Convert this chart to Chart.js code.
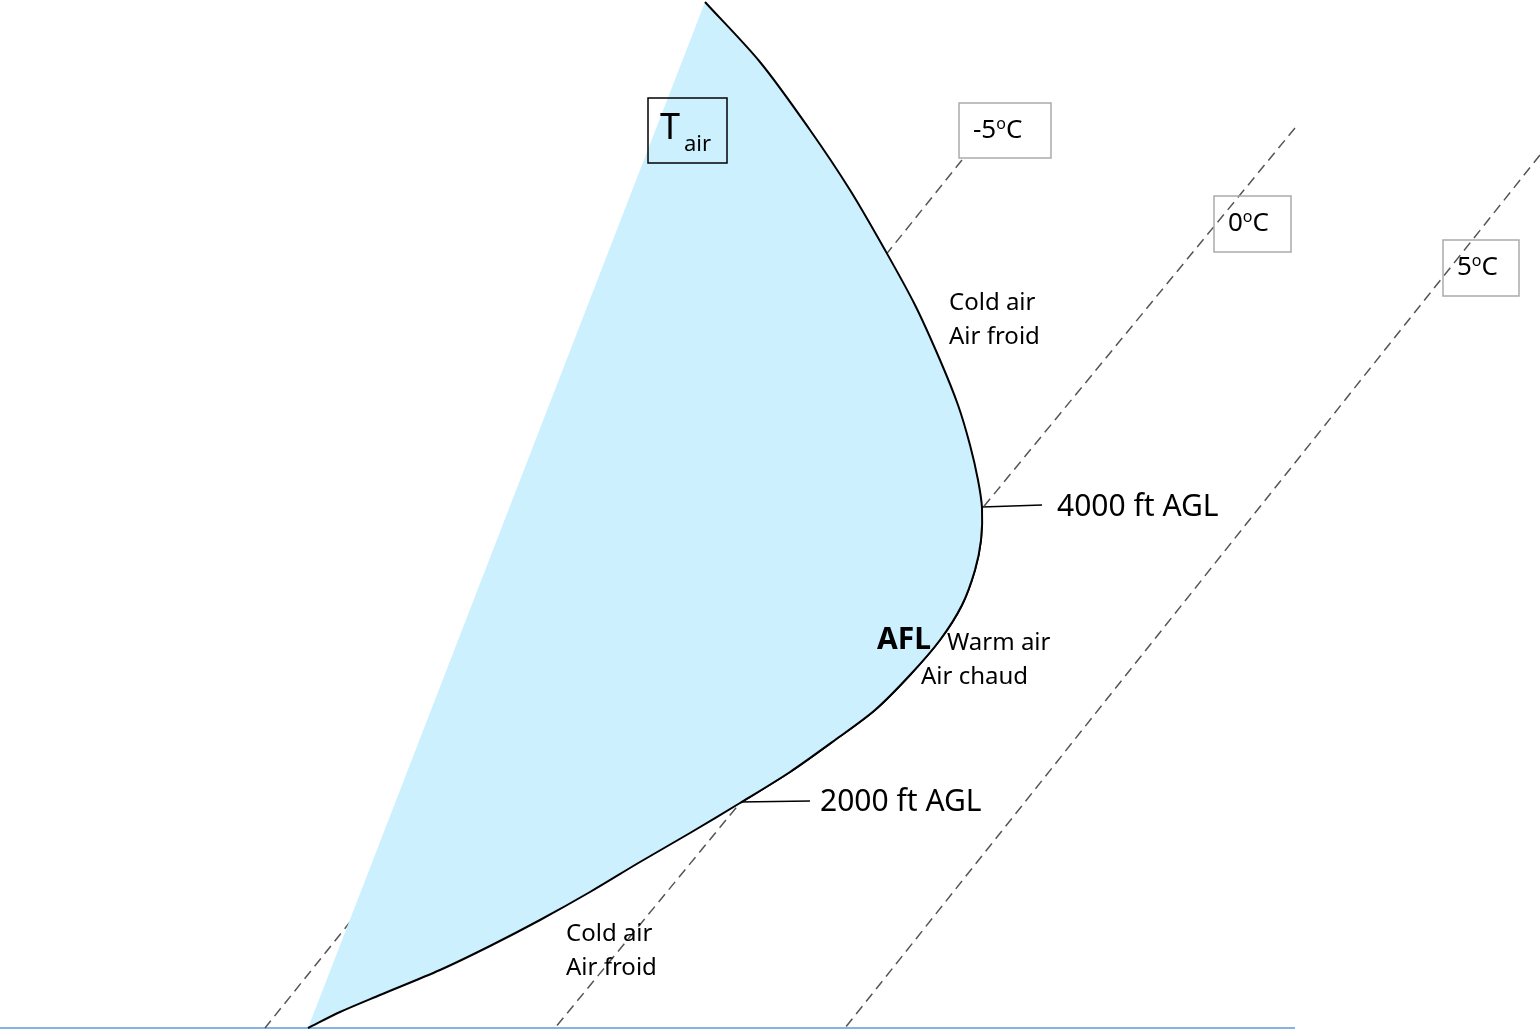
<!DOCTYPE html>
<html><head><meta charset="utf-8">
<script src="https://cdn.jsdelivr.net/npm/chart.js@4"></script>
<style>html,body{margin:0;padding:0;background:#fff}#wrap{width:1540px;height:1036px}</style>
</head><body><div id="wrap"><canvas id="c"></canvas></div>
<script>
// Diagram coordinates (scale units; y axis reversed)
const curveTair = [[705,2],[760,62],[810,130],[850,190],[885,250],[915,305],[940,360],[958,405],[970,445],[978,480],[982,508],[981,540],[975,570],[962,605],[940,640],[910,675],[875,710],[835,740],[790,772],[740,803],[690,833],[640,862],[590,892],[540,920],[490,946],[440,970],[380,995],[340,1012],[308,1028]];
const leftEdge = [[705,2],[308,1028]];
const isoMinus5 = [[962,160],[265,1028]];
const iso0 = [[1295,128],[555,1028]];
const iso5 = [[1540,155],[845,1028]];
const aflCurve = curveTair.filter(p => p[1] >= 508 && p[1] <= 803);
const aflIso = [[982,508],[740,803]];
const leaderTair = [[727,133],[810,130]];
const leader4000 = [[982,507],[1042,505]];
const leader2000 = [[740,802],[810,801]];
const ground = [[0,1028],[1295,1028]];

const pts = a => a.map(p => ({x:p[0], y:p[1]}));
const line = (d, color, w, dash) => ({data:pts(d), borderColor:color, borderWidth:w, borderDash:dash||[], pointRadius:0, fill:false, tension:0});

const textPlugin = {
  id:'txt',
  afterDraw(chart){
    const {ctx, scales:{x, y}} = chart;
    const X = v => x.getPixelForValue(v), Y = v => y.getPixelForValue(v);
    const F = 'Noto Sans, Open Sans, sans-serif';
    ctx.save();
    ctx.fillStyle = '#000'; ctx.textBaseline = 'middle'; ctx.textAlign = 'left';
    const t = (s, px, py, size, bold) => { ctx.font = (bold?'bold ':'') + size + 'px ' + F; ctx.fillText(s, X(px), Y(py)); };
    const box = (x1,y1,x2,y2,c) => { ctx.strokeStyle = c; ctx.lineWidth = 1.5; ctx.strokeRect(X(x1),Y(y1),X(x2)-X(x1),Y(y2)-Y(y1)); };
    const deg = (pre, px, py) => {
      ctx.font = '26px ' + F; ctx.fillText(pre, X(px), Y(py));
      let w = ctx.measureText(pre).width;
      ctx.font = '16px ' + F; ctx.fillText('o', X(px)+w, Y(py)-7);
      let w2 = ctx.measureText('o').width;
      ctx.font = '26px ' + F; ctx.fillText('C', X(px)+w+w2, Y(py));
    };
    box(648,98,727,163,'#000');
    t('T', 660, 129, 36); t('air', 684, 145, 22);
    box(959,103,1051,158,'#aaa'); deg('-5', 973, 131);
    box(1214,196,1291,252,'#aaa'); deg('0', 1228, 224);
    box(1443,240,1519,296,'#aaa'); deg('5', 1457, 268);
    t('Cold air', 949, 303, 24); t('Air froid', 949, 337, 24);
    t('4000 ft AGL', 1057, 507, 30);
    t('2000 ft AGL', 820, 802, 30);
    t('AFL', 877, 640, 30, true);
    t('Warm air', 947, 643, 24); t('Air chaud', 921, 677, 24);
    t('Cold air', 566, 934, 24); t('Air froid', 566, 968, 24);
    ctx.restore();
  }
};

new Chart(document.getElementById('c'), {
  type:'line',
  data:{datasets:[
    {data:pts(leftEdge), borderColor:'rgba(0,0,0,0)', borderWidth:0, pointRadius:0, fill:false},
    {data:pts(curveTair), borderColor:'#000', borderWidth:2, pointRadius:0, tension:0.3, fill:{target:0}, backgroundColor:'#ccf0fd'},
    {data:pts(aflIso), borderColor:'rgba(0,0,0,0)', borderWidth:0, pointRadius:0, fill:false},
    {data:pts(aflCurve), borderColor:'#000', borderWidth:2, pointRadius:0, tension:0.3, fill:{target:2}, backgroundColor:'#e9d262'},
    line(isoMinus5,'#555',1.5,[10,6]),
    line(iso0,'#555',1.5,[10,6]),
    line(iso5,'#555',1.5,[10,6]),
    line(leaderTair,'#000',2.5),
    line(leader4000,'#000',1.5),
    line(leader2000,'#000',1.5),
    line(ground,'#5b9bd5',1.5)
  ]},
  options:{
    indexAxis:'y', responsive:true, maintainAspectRatio:false, animation:false,
    layout:{padding:0},
    plugins:{legend:{display:false}, tooltip:{enabled:false}},
    scales:{
      x:{type:'linear', min:0, max:1540, display:false},
      y:{type:'linear', min:0, max:1036, reverse:true, display:false}
    }
  },
  plugins:[textPlugin]
});
</script></body></html>
